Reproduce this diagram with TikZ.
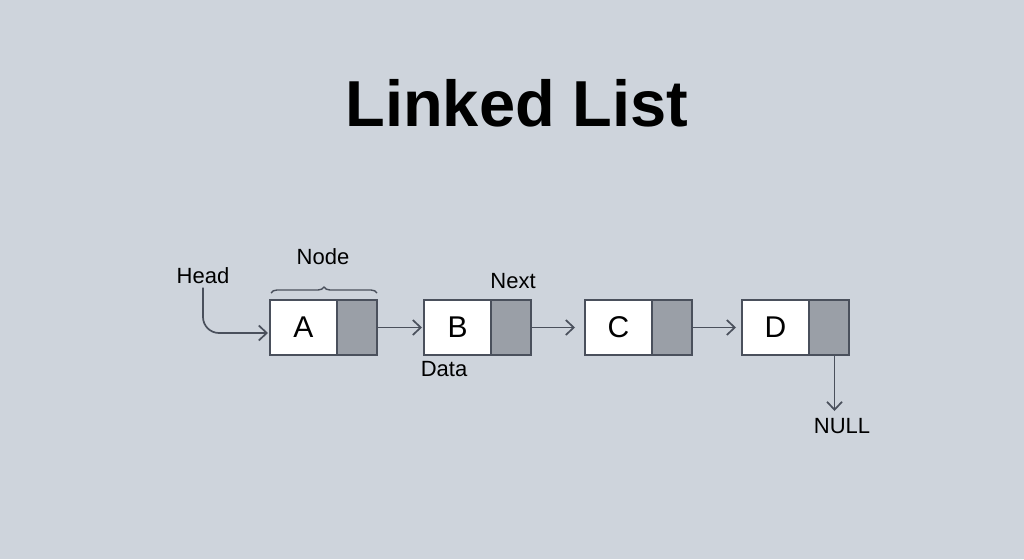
\documentclass[tikz,border=0pt]{standalone}
\usepackage{fontspec}
\setmainfont{Liberation Sans}
\usetikzlibrary{positioning,arrows.meta,decorations.pathreplacing}
\definecolor{bgcol}{HTML}{CED4DC}
\definecolor{edgecol}{HTML}{4A505C}
\definecolor{ptrcol}{HTML}{9A9FA7}
\tikzset{
  datapart/.style={draw=edgecol,line width=1.8pt,fill=white,minimum width=67pt,minimum height=55pt,inner sep=0pt,outer sep=0pt,font=\fontsize{30}{30}\selectfont},
  nextpart/.style={draw=edgecol,line width=1.8pt,fill=ptrcol,minimum width=40pt,minimum height=55pt,inner sep=0pt,outer sep=0pt},
  link/.style={draw=edgecol,line width=1.7pt,-{Straight Barb[length=8pt,width=15pt,line width=1.7pt]}},
  lbl/.style={font=\fontsize{22}{22}\selectfont}
}
\begin{document}
\begin{tikzpicture}[x=1pt,y=-1pt]
\fill[bgcol] (0,0) rectangle (1024,559);
\node[font=\fontsize{65}{65}\selectfont\bfseries] (title) at (517,103) {Linked List};
\foreach \n/\x in {A/303.5,B/457.5,C/618.5,D/775.5}{
  \node[datapart] (\n-data) at (\x,327.5) {\n};
  \node[nextpart,right=0pt of \n-data] (\n-next) {};
}
\draw[link,shorten >=2pt] (A-next) -- (B-data);
\draw[link,shorten >=10pt] (B-next) -- (C-data);
\draw[link,shorten >=6pt] (C-next) -- (D-data);
\node[lbl] (head) at (203,276) {Head};
\draw[link,rounded corners=16pt] (head.south) |- ([yshift=-5.5pt,xshift=-2pt]A-data.west);
\node[lbl] (nodelbl) at (323,257) {Node};
\draw[edgecol,line width=1.4pt,decorate,decoration={brace,amplitude=6pt}] (271,293) -- (377,293);
\node[lbl] (nextlbl) at (513,281) {Next};
\node[lbl] (datalbl) at (444,369) {Data};
\node[lbl] (null) at (842,426) {NULL};
\coordinate (nullend) at ([xshift=5.5pt]D-next.south |- 0,411);
\draw[link] ([xshift=5.5pt]D-next.south) -- (nullend);
\end{tikzpicture}
\end{document}
